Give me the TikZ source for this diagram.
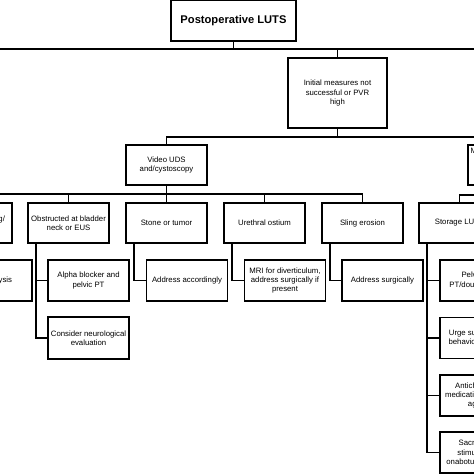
\documentclass[tikz,border=0pt]{standalone}
\usepackage{fontspec}
\setmainfont{Liberation Sans}
\usetikzlibrary{positioning, calc}

\begin{document}
\begin{tikzpicture}[x=1bp, y=-1bp, line width=1.2bp,
    box/.style={draw, rectangle, minimum width=81bp, minimum height=40bp, inner sep=1bp,
        align=center, font=\fontsize{7.8}{9.4}\selectfont},
    tall/.style={box, minimum height=41bp}]
        % frame of the picture
        \useasboundingbox (0,0) rectangle (474,474);
        \clip (0,0) rectangle (474,474);

        % top levels
        \node (luts) [draw, rectangle, line width=1.4bp, minimum width=125bp, minimum height=41bp,
            font=\bfseries\fontsize{11.2}{13}\selectfont] at (233.5,20.5) {Postoperative LUTS};
        \node (init) [box, minimum width=99bp, minimum height=70bp] at (337.5,93)
            {Initial measures not\\successful or PVR\\high};
        \node (video) [box] at (166.5,165) {Video UDS\\and/cystoscopy};
        \node (mixed) [box] at (508.5,165) {Mixed voiding/storage\\symptoms, no\\obstruction on\\UDS};

        % findings
        \node (sling) [box] at (-28.5,223) {Obstructed at sling/\\urethra};
        \node (neck) [box] at (68.5,223) {Obstructed at bladder\\neck or EUS};
        \node (stone) [box] at (166.5,223) {Stone or tumor};
        \node (ostium) [box] at (264.5,223) {Urethral ostium};
        \node (erosion) [box] at (362.5,223) {Sling erosion};
        \node (storage) [box] at (459.5,223) {Storage LUTS};

        % treatments
        \node (lysis) [tall] at (-8.5,280.5) {Urethrolysis};
        \node (alpha) [tall] at (88.5,280.5) {Alpha blocker and\\pelvic PT};
        \node (neuro) [tall, minimum height=42bp] at (88.5,338) {Consider neurological\\evaluation};
        \node (accord) [tall] at (187,280.5) {Address accordingly};
        \node (mri) [tall] at (285,280.5) {MRI for diverticulum,\\address surgically if\\present};
        \node (surg) [tall] at (382.5,280.5) {Address surgically};
        \node (pfpt) [tall] at (480.5,280.5) {Pelvic floor\\PT/double voiding};
        \node (urge) [tall] at (480.5,338) {Urge suppression/\\behavioral therapy};
        \node (antic) [tall] at (480.5,395.5) {Anticholinergic\\medication or beta-3\\agonist};
        \node (sacral) [tall] at (480.5,452.5) {Sacral nerve\\stimulation or\\onabotulinumtoxinA};

        % bus lines
        \coordinate (busL) at (-10,49);
        \coordinate (busR) at (490,49);
        \coordinate (bus1) at (0,137);
        \coordinate (bus2) at (0,194);
        \coordinate (bus3) at (0,195);

        \draw (busL) -- (busR);
        \draw (luts.south) -- (luts.south |- busL);
        \draw (init.north) -- (init.north |- busL);

        \draw (init.south) -- (init.south |- bus1);
        \draw (video.north) -- (video.north |- bus1) -| (mixed.north);

        \draw (video.south) -- (video.south |- bus2);
        \draw (sling.north) -- (sling.north |- bus2) -| (erosion.north);
        \foreach \n in {neck, stone, ostium}
            \draw (\n.north) -- (\n.north |- bus2);

        \draw (mixed.south) -- (mixed.south |- bus3) -| (storage.north);

        % side branches
        \draw ([xshift=8.5bp]sling.south west) |- (lysis.west);
        \draw ([xshift=8.5bp]neck.south west) |- (neuro.west);
        \draw ([xshift=8.5bp]neck.south west) |- (alpha.west);
        \draw ([xshift=8.5bp]stone.south west) |- (accord.west);
        \draw ([xshift=8.5bp]ostium.south west) |- (mri.west);
        \draw ([xshift=8.5bp]erosion.south west) |- (surg.west);
        \draw ([xshift=8.5bp]storage.south west) |- (sacral.west);
        \foreach \n in {pfpt, urge, antic}
            \draw ([xshift=8.5bp]storage.south west |- \n.west) -- (\n.west);
\end{tikzpicture}
\end{document}
